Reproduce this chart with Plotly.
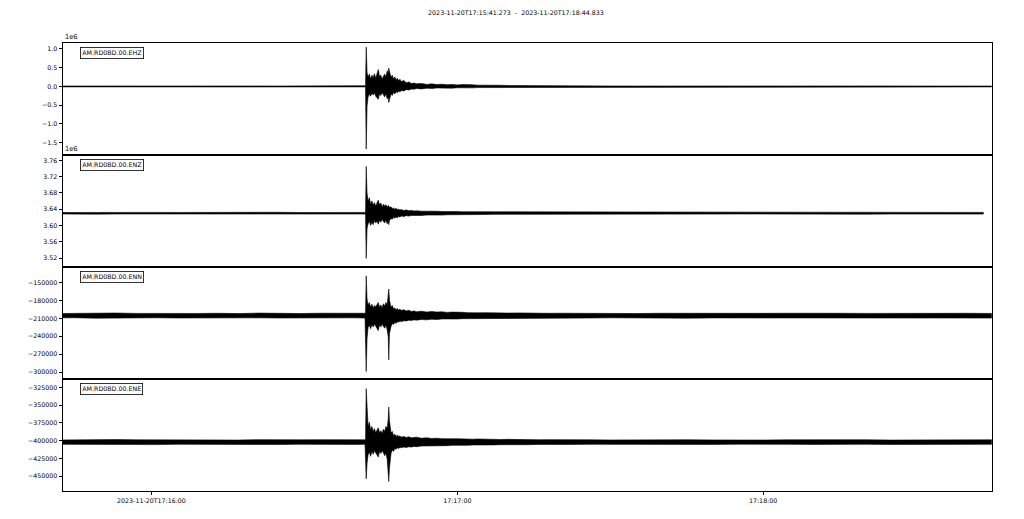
import pandas as pd
import plotly.graph_objects as go
from plotly.subplots import make_subplots

TITLE = "2023-11-20T17:15:41.273  -  2023-11-20T17:18:44.833"
REF_TIME = "2023-11-20 17:16:00"
X_RANGE = ["2023-11-20 17:15:42.650", "2023-11-20 17:18:44.900"]
X_TICKVALS = ["2023-11-20 17:16:00", "2023-11-20 17:17:00", "2023-11-20 17:18:00"]
X_TICKTEXT = ["2023-11-20T17:16:00", "17:17:00", "17:18:00"]

CHANNELS = ["AM.RD0BD.00.EHZ", "AM.RD0BD.00.ENZ", "AM.RD0BD.00.ENN", "AM.RD0BD.00.ENE"]

# envelope sample times, seconds relative to 17:16:00
T_PRE = [-18.7, -15, -11, -7, -3, 1, 5, 9, 13, 17, 21, 25, 29, 33, 37, 40, 41.9]
T_EVENT = [42.0, 42.13, 42.3, 42.5, 42.75, 43.0, 43.25, 43.5, 43.75, 44.0, 44.25, 44.5, 44.75,
           45.0, 45.25, 45.5, 45.75, 46.0, 46.25, 46.45, 46.56, 46.7, 47.0, 47.25, 47.5, 47.75,
           48.0, 48.25, 48.5, 48.75, 49.0, 49.5, 50.0, 50.5, 51, 51.5, 52, 53, 54, 55, 56, 57,
           58, 59, 60, 61, 62, 63, 64, 65.5, 67, 68.5, 70, 72, 74, 76, 78, 80, 82]
T_POST = [86, 90, 95, 100, 105, 110, 115, 120, 125, 130, 135, 140, 145, 150, 155, 160, 164.8]
ENZ_END = 163.2

# baselines (counts)
BASE_EHZ = 0
BASE_ENZ = 3630000
BASE_ENN = -205500
BASE_ENE = -402000

# ---- EHZ envelope offsets (counts)
EHZ_UP_PRE = [12e3, 14e3, 12e3, 15e3, 13e3, 12e3, 14e3, 13e3, 12e3, 15e3, 13e3, 12e3, 14e3, 13e3, 12e3, 14e3, 13e3]
EHZ_LO_PRE = [-12e3, -13e3, -14e3, -12e3, -13e3, -15e3, -12e3, -13e3, -14e3, -12e3, -13e3, -14e3, -12e3, -13e3, -14e3, -12e3, -13e3]
EHZ_UP_EV = [20e3, 1050e3, 380e3, 250e3, 330e3, 200e3, 300e3, 240e3, 340e3, 220e3, 380e3, 450e3, 260e3,
             300e3, 200e3, 280e3, 330e3, 250e3, 420e3, 360e3, 490e3, 400e3, 250e3, 300e3, 200e3, 250e3,
             170e3, 220e3, 150e3, 190e3, 130e3, 160e3, 100e3, 120e3, 80e3, 90e3, 70e3, 80e3, 55e3, 70e3, 50e3, 60e3,
             45e3, 55e3, 40e3, 50e3, 38e3, 45e3, 35e3, 38e3, 30e3, 32e3, 25e3, 22e3, 18e3, 16e3, 14e3, 13e3, 12e3]
EHZ_LO_EV = [-20e3, -1670e3, -520e3, -280e3, -200e3, -260e3, -180e3, -230e3, -170e3, -260e3, -300e3, -340e3, -200e3,
             -240e3, -170e3, -220e3, -280e3, -200e3, -330e3, -280e3, -430e3, -350e3, -200e3, -240e3, -160e3, -200e3,
             -140e3, -170e3, -120e3, -150e3, -110e3, -120e3, -85e3, -95e3, -70e3, -75e3, -55e3, -65e3, -45e3, -55e3, -40e3, -50e3,
             -38e3, -45e3, -35e3, -42e3, -32e3, -38e3, -30e3, -32e3, -26e3, -28e3, -22e3, -20e3, -16e3, -15e3, -13e3, -12e3, -12e3]
EHZ_UP_POST = [12e3, 13e3, 12e3, 14e3, 12e3, 13e3, 12e3, 14e3, 13e3, 12e3, 13e3, 12e3, 14e3, 12e3, 13e3, 12e3, 12e3]
EHZ_LO_POST = [-13e3, -12e3, -14e3, -12e3, -13e3, -12e3, -14e3, -12e3, -13e3, -14e3, -12e3, -13e3, -12e3, -14e3, -12e3, -13e3, -12e3]

# ---- ENZ envelope offsets (counts)
ENZ_UP_PRE = [1.8e3, 2.1e3, 1.9e3, 2.3e3, 1.8e3, 2.1e3, 1.9e3, 2.2e3, 1.8e3, 2.1e3, 2.0e3, 2.3e3, 1.8e3, 2.1e3, 1.9e3, 2.1e3, 2.0e3]
ENZ_LO_PRE = [-1.8e3, -2.0e3, -2.2e3, -1.9e3, -2.1e3, -1.9e3, -2.3e3, -1.8e3, -2.1e3, -2.0e3, -1.9e3, -2.2e3, -1.9e3, -2.1e3, -1.9e3, -2.0e3, -2.1e3]
ENZ_UP_EV = [2e3, 115e3, 50e3, 30e3, 38e3, 22e3, 30e3, 20e3, 26e3, 18e3, 24e3, 32e3, 20e3,
             25e3, 16e3, 22e3, 18e3, 21e3, 15e3, 19e3, 18e3, 14e3, 16e3, 11e3, 13e3, 10e3,
             12e3, 9e3, 10e3, 8e3, 9e3, 7e3, 8e3, 6e3, 7e3, 5.5e3, 6e3, 5e3, 5.5e3, 4.5e3, 5e3, 4e3,
             4.5e3, 4e3, 4e3, 3.6e3, 3.6e3, 3.2e3, 3.2e3, 2.9e3, 2.9e3, 2.6e3, 2.6e3, 2.4e3, 2.4e3, 2.2e3, 2.2e3, 2.0e3, 2.1e3]
ENZ_LO_EV = [-2e3, -111e3, -38e3, -26e3, -20e3, -30e3, -22e3, -28e3, -18e3, -24e3, -19e3, -27e3, -17e3,
             -22e3, -15e3, -20e3, -24e3, -17e3, -26e3, -20e3, -28e3, -18e3, -13e3, -15e3, -10e3, -12e3,
             -9e3, -11e3, -8e3, -9e3, -7e3, -8e3, -6e3, -7e3, -5.5e3, -6e3, -5e3, -5.5e3, -4.5e3, -5e3, -4e3, -4.5e3,
             -3.8e3, -4e3, -3.4e3, -3.6e3, -3.1e3, -3.3e3, -2.9e3, -3e3, -2.7e3, -2.8e3, -2.5e3, -2.4e3, -2.3e3, -2.2e3, -2.1e3, -2.0e3, -2.1e3]
ENZ_UP_POST = [2.1e3, 1.9e3, 2.2e3, 1.8e3, 2.1e3, 2.0e3, 2.2e3, 1.8e3, 2.1e3, 1.9e3, 2.3e3, 2.0e3, 1.8e3, 2.1e3, 1.9e3, 2.2e3, 2.0e3]
ENZ_LO_POST = [-1.9e3, -2.1e3, -1.8e3, -2.2e3, -2.0e3, -2.1e3, -1.8e3, -2.3e3, -1.9e3, -2.1e3, -1.8e3, -2.2e3, -2.0e3, -1.9e3, -2.1e3, -1.8e3, -2.1e3]

# ---- ENN envelope offsets (counts)
ENN_UP_PRE = [3.6e3, 4.0e3, 3.4e3, 4.4e3, 3.8e3, 3.5e3, 4.2e3, 3.7e3, 4.0e3, 3.5e3, 4.3e3, 3.8e3, 3.6e3, 4.1e3, 3.7e3, 3.9e3, 3.8e3]
ENN_LO_PRE = [-3.7e3, -3.5e3, -4.2e3, -3.8e3, -4.0e3, -3.6e3, -3.9e3, -4.3e3, -3.5e3, -4.0e3, -3.7e3, -3.9e3, -4.2e3, -3.6e3, -3.9e3, -3.7e3, -4.0e3]
ENN_UP_EV = [4e3, 66.9e3, 28e3, 18e3, 22e3, 14e3, 19e3, 13e3, 17e3, 15e3, 20e3, 22e3, 14e3,
             18e3, 13e3, 20e3, 16e3, 22e3, 18e3, 30e3, 44.7e3, 26e3, 14e3, 17e3, 11e3, 13e3,
             10e3, 12e3, 9e3, 11e3, 8.5e3, 10e3, 8e3, 9e3, 7e3, 8e3, 6.5e3, 7.5e3, 6e3, 7e3, 6e3, 6.5e3,
             5.5e3, 6e3, 5.2e3, 5.6e3, 5e3, 5.4e3, 4.7e3, 5e3, 4.5e3, 4.8e3, 4.3e3, 4.6e3, 4.1e3, 4.3e3, 3.9e3, 4.1e3, 3.9e3]
ENN_LO_EV = [-4e3, -93.7e3, -38e3, -20e3, -16e3, -22e3, -15e3, -19e3, -14e3, -18e3, -21e3, -25e3, -15e3,
             -19e3, -14e3, -17e3, -21e3, -16e3, -24e3, -35e3, -74e3, -30e3, -18e3, -13e3, -15e3, -11e3,
             -13e3, -10e3, -11e3, -9e3, -10e3, -8.5e3, -9e3, -7.5e3, -8e3, -7e3, -7.5e3, -6.5e3, -7e3, -6e3, -6.5e3, -5.5e3,
             -6e3, -5.3e3, -5.6e3, -5.1e3, -5.4e3, -4.7e3, -5e3, -4.6e3, -4.8e3, -4.4e3, -4.5e3, -4.1e3, -4.4e3, -3.9e3, -4.1e3, -3.8e3, -4e3]
ENN_UP_POST = [3.8e3, 4.2e3, 3.6e3, 4.0e3, 3.7e3, 4.3e3, 3.6e3, 3.9e3, 4.1e3, 3.5e3, 4.0e3, 3.8e3, 4.2e3, 3.6e3, 3.9e3, 4.0e3, 3.7e3]
ENN_LO_POST = [-3.9e3, -3.6e3, -4.1e3, -3.7e3, -4.2e3, -3.8e3, -4.0e3, -3.5e3, -3.9e3, -4.3e3, -3.7e3, -4.0e3, -3.6e3, -4.1e3, -3.8e3, -3.9e3, -4.0e3]

# ---- ENE envelope offsets (counts)
ENE_UP_PRE = [3.0e3, 3.4e3, 2.9e3, 3.6e3, 3.2e3, 3.0e3, 3.5e3, 3.1e3, 3.3e3, 2.9e3, 3.5e3, 3.0e3, 3.2e3, 3.4e3, 3.0e3, 3.2e3, 3.1e3]
ENE_LO_PRE = [-3.1e3, -2.9e3, -3.4e3, -3.0e3, -3.3e3, -3.5e3, -3.0e3, -3.2e3, -3.4e3, -2.9e3, -3.2e3, -3.4e3, -3.0e3, -3.3e3, -3.0e3, -3.2e3, -3.1e3]
ENE_UP_EV = [3.2e3, 75.2e3, 35e3, 22e3, 28e3, 17e3, 22e3, 15e3, 19e3, 13e3, 17e3, 20e3, 13e3,
             16e3, 12e3, 18e3, 15e3, 22e3, 20e3, 32e3, 49.3e3, 30e3, 13e3, 15e3, 9e3, 11e3,
             8e3, 10e3, 7.5e3, 9e3, 7e3, 8e3, 6.5e3, 7.5e3, 6e3, 7e3, 7e3, 5.5e3, 6e3, 5e3, 5.5e3, 4.8e3,
             5.2e3, 4.6e3, 4.8e3, 4.3e3, 4.6e3, 4.1e3, 4.4e3, 3.9e3, 4.1e3, 3.7e3, 3.9e3, 3.5e3, 3.7e3, 3.3e3, 3.5e3, 3.2e3, 3.3e3]
ENE_LO_EV = [-3.2e3, -51.6e3, -30e3, -18e3, -14e3, -20e3, -13e3, -17e3, -12e3, -15e3, -18e3, -21e3, -13e3,
             -16e3, -12e3, -15e3, -19e3, -16e3, -24e3, -35e3, -55.4e3, -36e3, -16e3, -11e3, -13e3, -9e3,
             -10e3, -8e3, -9e3, -7.5e3, -8e3, -7e3, -7.5e3, -6.5e3, -7e3, -6e3, -6.5e3, -5.5e3, -6e3, -5e3, -5.5e3, -5e3,
             -5e3, -4.5e3, -4.7e3, -4.3e3, -4.5e3, -4e3, -4.3e3, -3.8e3, -4e3, -3.6e3, -3.8e3, -3.4e3, -3.6e3, -3.2e3, -3.4e3, -3.1e3, -3.3e3]
ENE_UP_POST = [3.2e3, 3.0e3, 3.4e3, 2.9e3, 3.3e3, 3.1e3, 3.5e3, 2.9e3, 3.2e3, 3.4e3, 3.0e3, 3.3e3, 2.9e3, 3.2e3, 3.4e3, 3.1e3, 3.2e3]
ENE_LO_POST = [-3.1e3, -3.3e3, -2.9e3, -3.4e3, -3.0e3, -3.2e3, -2.9e3, -3.5e3, -3.1e3, -3.2e3, -3.4e3, -3.0e3, -3.3e3, -2.9e3, -3.2e3, -3.3e3, -3.1e3]

Y_RANGES = [[-1830000, 1160000], [3498000, 3773000], [-311700, -123900], [-470700, -313300]]
Y_TICKVALS = [
    [-1500000, -1000000, -500000, 0, 500000, 1000000],
    [3520000, 3560000, 3600000, 3640000, 3680000, 3720000, 3760000],
    [-300000, -270000, -240000, -210000, -180000, -150000],
    [-450000, -425000, -400000, -375000, -350000, -325000],
]
Y_TICKTEXT = [
    ["\u22121.5", "\u22121.0", "\u22120.5", "0.0", "0.5", "1.0"],
    ["3.52", "3.56", "3.60", "3.64", "3.68", "3.72", "3.76"],
    ["\u2212300000", "\u2212270000", "\u2212240000", "\u2212210000", "\u2212180000", "\u2212150000"],
    ["\u2212450000", "\u2212425000", "\u2212400000", "\u2212375000", "\u2212350000", "\u2212325000"],
]
OFFSET_TEXT = ["1e6", "1e6", None, None]

FONT = "DejaVu Sans"
FS = 6.3

T_ALL = T_PRE + T_EVENT + T_POST
series = [
    (T_ALL, BASE_EHZ, EHZ_UP_PRE + EHZ_UP_EV + EHZ_UP_POST, EHZ_LO_PRE + EHZ_LO_EV + EHZ_LO_POST),
    ([min(t, ENZ_END) for t in T_ALL], BASE_ENZ, ENZ_UP_PRE + ENZ_UP_EV + ENZ_UP_POST, ENZ_LO_PRE + ENZ_LO_EV + ENZ_LO_POST),
    (T_ALL, BASE_ENN, ENN_UP_PRE + ENN_UP_EV + ENN_UP_POST, ENN_LO_PRE + ENN_LO_EV + ENN_LO_POST),
    (T_ALL, BASE_ENE, ENE_UP_PRE + ENE_UP_EV + ENE_UP_POST, ENE_LO_PRE + ENE_LO_EV + ENE_LO_POST),
]

ref = pd.Timestamp(REF_TIME)

fig = make_subplots(rows=4, cols=1, shared_xaxes=True, vertical_spacing=0)

for i, (t, base, up, lo) in enumerate(series):
    times = [ref + pd.Timedelta(seconds=s) for s in t]
    xs = times + times[::-1]
    ys = [base + v for v in up] + [base + v for v in lo][::-1]
    fig.add_trace(go.Scatter(x=xs, y=ys, mode="lines", fill="toself",
                             fillcolor="black", line=dict(color="black", width=0.6),
                             hoverinfo="skip", showlegend=False), row=i + 1, col=1)

axis_common = dict(showgrid=False, zeroline=False, showline=True, linecolor="black",
                   linewidth=0.8, mirror=True, ticks="outside", ticklen=3.5, tickwidth=0.8,
                   tickcolor="black", tickfont=dict(family=FONT, size=FS, color="black"))

for i in range(4):
    r = i + 1
    fig.update_yaxes(range=Y_RANGES[i], tickvals=Y_TICKVALS[i], ticktext=Y_TICKTEXT[i],
                     **axis_common, row=r, col=1)
    fig.update_xaxes(type="date", range=X_RANGE, **axis_common, row=r, col=1)
    if r < 4:
        fig.update_xaxes(showticklabels=False, ticks="", row=r, col=1)
    else:
        fig.update_xaxes(tickvals=X_TICKVALS, ticktext=X_TICKTEXT, row=r, col=1)

    yref = "y domain" if r == 1 else f"y{r} domain"
    xref = "x domain" if r == 1 else f"x{r} domain"
    fig.add_annotation(text=CHANNELS[i], xref=xref, yref=yref, x=0.018, y=0.962,
                       xanchor="left", yanchor="top", showarrow=False,
                       font=dict(family=FONT, size=FS, color="black"),
                       bordercolor="black", borderwidth=0.8, borderpad=1.5, bgcolor="white")
    if OFFSET_TEXT[i]:
        fig.add_annotation(text=OFFSET_TEXT[i], xref=xref, yref=yref, x=0.0, y=1.0,
                           xanchor="left", yanchor="bottom", showarrow=False,
                           font=dict(family=FONT, size=FS + 0.4, color="black"))

fig.update_layout(
    width=1016, height=511,
    margin=dict(l=55, r=32, t=35, b=28),
    paper_bgcolor="white", plot_bgcolor="white",
    title=dict(text=TITLE, x=0.5, xanchor="center", y=0.990, yanchor="middle",
               font=dict(family=FONT, size=FS, color="black")),
    font=dict(family=FONT, size=FS, color="black"),
)

fig.write_html("out.html")
